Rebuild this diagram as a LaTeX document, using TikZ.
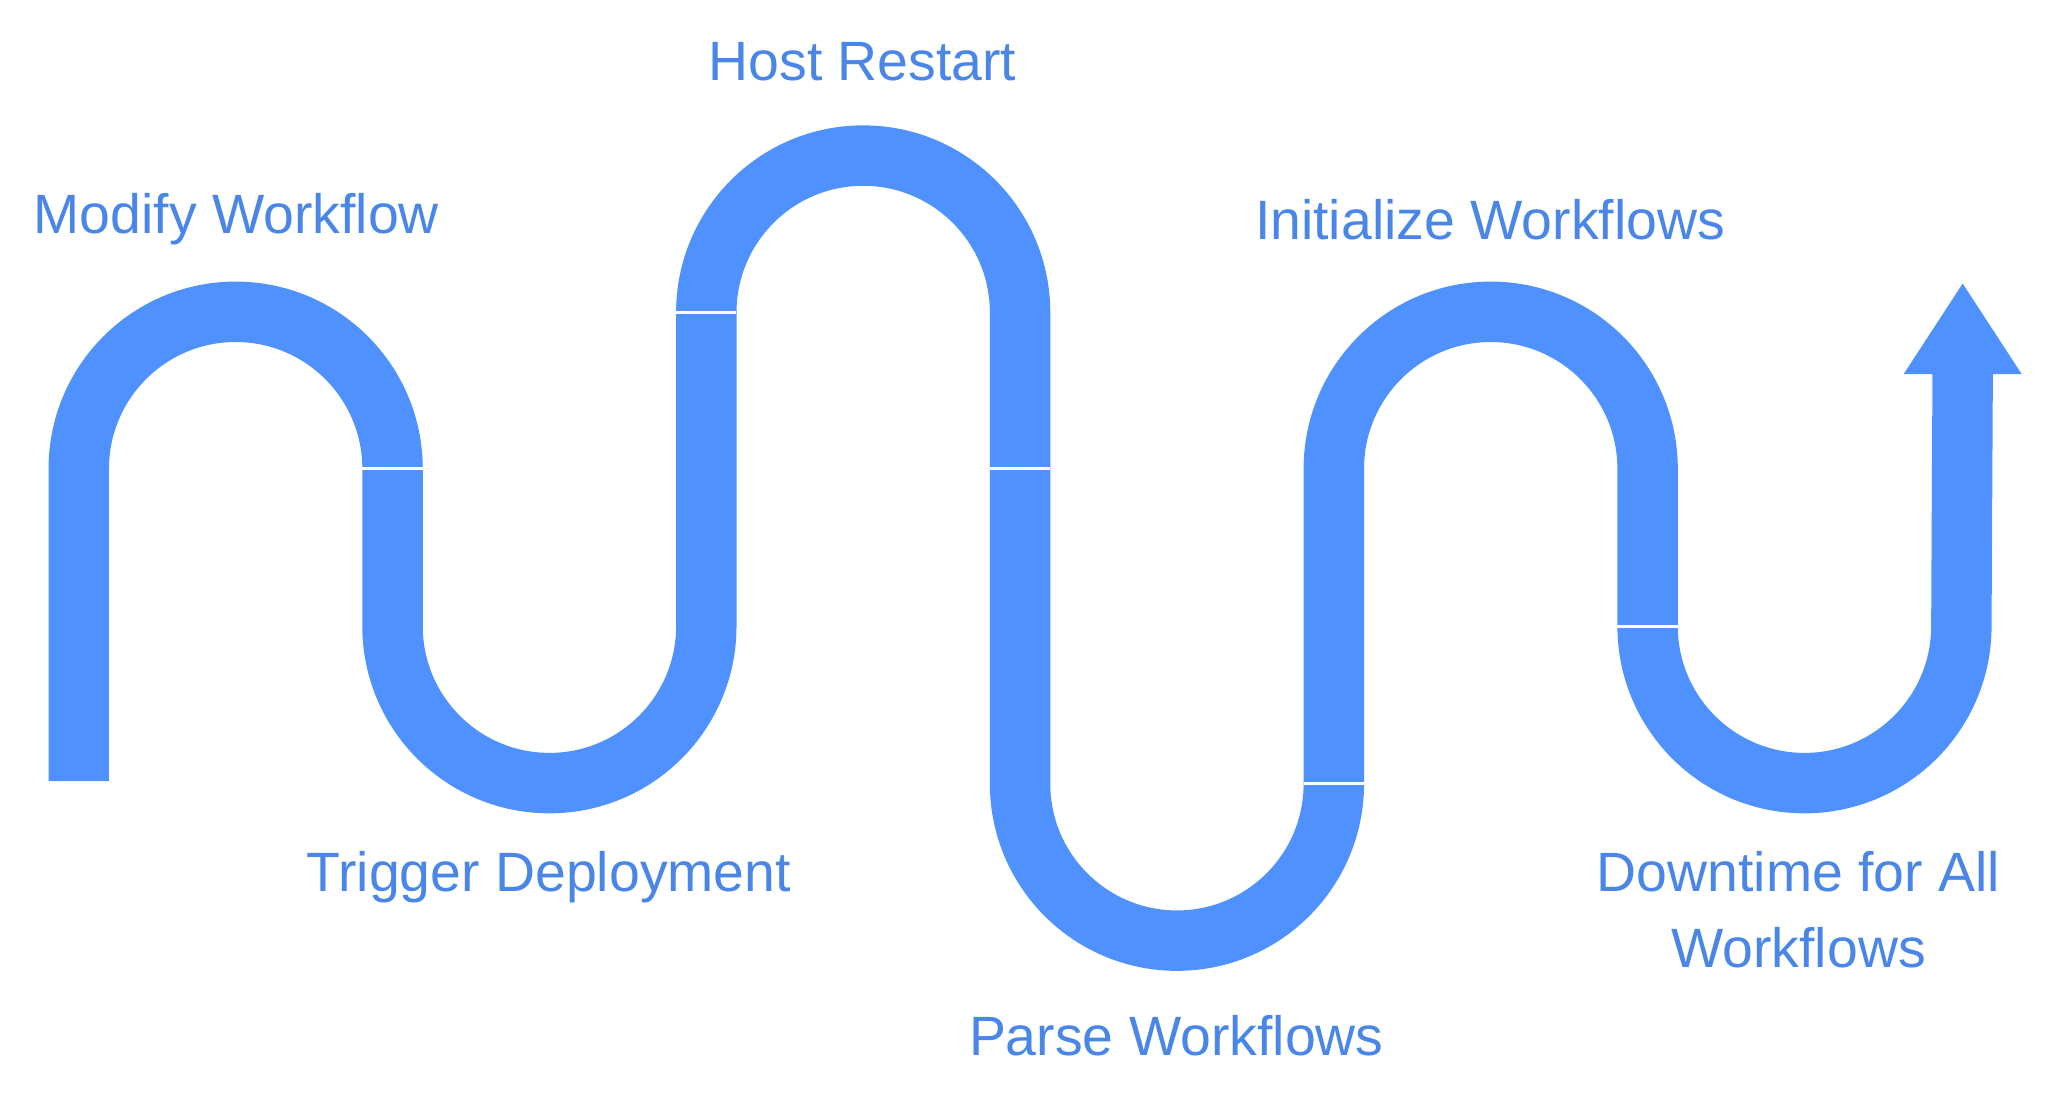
\documentclass[tikz,border=0pt]{standalone}
\usepackage{fontspec}
\setmainfont{Liberation Sans}
\definecolor{road}{HTML}{4F92FF}
\definecolor{lbl}{HTML}{4A86E8}
\begin{document}
\begin{tikzpicture} [
        x=0.01cm, y=-0.01cm,
        road/.style={draw=road, line width=0.46cm},
        cut/.style={draw=white, line width=0.6pt},
        stage/.style={text=lbl, font=\fontsize{12}{16.5}\selectfont, align=center} ]
    \useasboundingbox (0,0) rectangle (1560,833);
    % the winding road
    \draw[road] (60,595) -- (60,357) arc[start angle=180, end angle=360, radius=119.5]
        -- (299,477) arc[start angle=180, end angle=0, radius=119.5]
        -- (538,238) arc[start angle=180, end angle=360, radius=119.5]
        -- (777,597) arc[start angle=180, end angle=0, radius=119.5]
        -- (1016,357) arc[start angle=180, end angle=360, radius=119.5]
        -- (1255,477) arc[start angle=180, end angle=0, radius=119.5]
        -- (1495,284);
    \fill[fill=road] (1450,285) -- (1495,216) -- (1540,285) -- cycle;
    % joints
    \foreach \px/\py in {299/357, 538/238, 777/357, 1016/597, 1255/477}
        \draw[cut] (\px-23,\py) -- (\px+23,\py);
    % labels
    \node[stage] (modify) at (180,167) {Modify Workflow};
    \node[stage] (trigger) at (418,668) {Trigger Deployment};
    \node[stage] (restart) at (657,47) {Host Restart};
    \node[stage] (parse) at (896,789) {Parse Workflows};
    \node[stage] (init) at (1135,167) {Initialize Workflows};
    \node[stage] (down) at (1370,693) {Downtime for All\\Workflows};
\end{tikzpicture}
\end{document}
